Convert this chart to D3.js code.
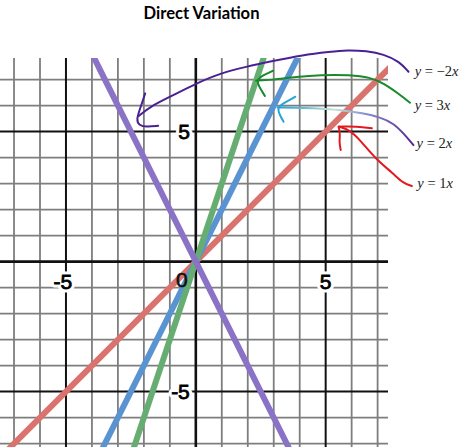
<!DOCTYPE html>
<html>
<head>
<meta charset="utf-8">
<script src="https://cdn.jsdelivr.net/npm/d3@7"></script>
<style>
html,body{margin:0;padding:0;background:#fff;}
svg{display:block;}
</style>
</head>
<body>
<svg id="chart" width="474" height="447"></svg>
<script>
// ---- data ----
const title = "Direct Variation";
const slopes = [1, 2, 3, -2];
const seriesNames = ["y = 1x", "y = 2x", "y = 3x", "y = -2x"];
const seriesColors = ["#d9736d", "#5a93d1", "#66ad72", "#8a72c6"];
const xDomain = [-7.54, 7.4];
const yDomain = [-7.13, 7.83];
const gridTicks = d3.range(-7, 8);
const majorTicks = [-5, 0, 5];
const xTickLabels = [-5, 5];
const yTickLabels = [5, -5];

// hand-drawn annotations (data units)
const annPurple = [[8.19,7.30],[7.85,7.69],[7.23,7.98],[6.58,8.10],[5.82,8.14],[5.16,8.07],[4.15,7.95],[2.85,7.69],[1.96,7.50],[0.93,7.24],[0.03,6.86],[-0.99,6.34],[-1.76,5.96],[-2.20,5.60]];
const annPurpleHead = [[-1.95,6.47],[-2.11,5.98],[-2.30,5.45],[-2.18,5.24],[-1.92,5.18],[-1.45,5.22]];
const annGreen = [[8.25,6.11],[7.87,6.41],[7.23,6.86],[6.71,7.09],[5.94,7.18],[4.79,7.18],[3.89,7.11],[2.87,6.98],[2.32,6.96]];
const annGreenHead = [[2.97,7.34],[2.55,7.15],[2.32,6.95],[2.50,6.62],[2.66,6.37]];
const annBlue = [[8.38,4.48],[8.0,4.93],[7.61,5.32],[7.10,5.55],[6.46,5.70],[5.43,5.86],[4.15,5.92],[3.15,5.93]];
const annBlueHead = [[3.83,6.34],[3.40,6.10],[3.12,5.93],[3.25,5.60],[3.38,5.38]];
const annRed = [[8.32,2.91],[7.97,3.02],[7.58,3.41],[6.96,3.91],[6.32,4.68],[5.93,5.06],[5.52,5.19]];
const annRedHead1 = [[6.78,5.13],[6.20,5.20],[5.50,5.19]];
const annRedHead2 = [[5.50,5.19],[5.56,4.90],[5.52,4.60],[5.58,4.29]];
const annLabels = [
  {parts:[["y",1],[" = −2",0],["x",1]], x:8.43, y:7.15},
  {parts:[["y",1],[" = 3",0],["x",1]], x:8.43, y:5.83},
  {parts:[["y",1],[" = 2",0],["x",1]], x:8.50, y:4.37},
  {parts:[["y",1],[" = 1",0],["x",1]], x:8.53, y:2.83}
];

// ---- drawing ----
const svg = d3.select("#chart");
const x = d3.scaleLinear().domain(xDomain).range([0, 388]);
const y = d3.scaleLinear().domain(yDomain).range([447, 58]);

svg.append("rect").attr("width",474).attr("height",447).attr("fill","#fff");

svg.append("defs").append("clipPath").attr("id","plot")
  .append("rect").attr("x", x(xDomain[0])).attr("y", y(yDomain[1]))
  .attr("width", x(xDomain[1]) - x(xDomain[0])).attr("height", y(yDomain[0]) - y(yDomain[1]));

const grid = svg.append("g");
// minor grid
grid.selectAll("line.vx").data(gridTicks.filter(d => !majorTicks.includes(d))).join("line")
  .attr("x1", d => x(d)).attr("x2", d => x(d))
  .attr("y1", y(yDomain[1])).attr("y2", y(yDomain[0]))
  .attr("stroke", "#7e7e7e").attr("stroke-width", 1.8);
grid.selectAll("line.hy").data(gridTicks.filter(d => !majorTicks.includes(d))).join("line")
  .attr("y1", d => y(d)).attr("y2", d => y(d))
  .attr("x1", x(xDomain[0])).attr("x2", x(xDomain[1]))
  .attr("stroke", "#7e7e7e").attr("stroke-width", 1.8);
// major grid
const maj = svg.append("g");
maj.selectAll("line.mx").data(majorTicks).join("line")
  .attr("x1", d => x(d)).attr("x2", d => x(d))
  .attr("y1", y(yDomain[1])).attr("y2", y(yDomain[0]))
  .attr("stroke", "#111").attr("stroke-width", d => d === 0 ? 2.6 : 2);
maj.selectAll("line.my").data(majorTicks).join("line")
  .attr("y1", d => y(d)).attr("y2", d => y(d))
  .attr("x1", x(xDomain[0])).attr("x2", x(xDomain[1]))
  .attr("stroke", "#111").attr("stroke-width", d => d === 0 ? 2.6 : 2);

// tick labels: white halo, then solid text
const fmt = d => d < 0 ? "-" + Math.abs(d) : String(d);
function tickLabels(withHalo) {
  const g = svg.append("g").attr("font-family", "'Liberation Sans', Arial, sans-serif")
    .attr("font-size", 21).attr("fill", withHalo ? "#fff" : "#000");
  if (withHalo) g.attr("stroke", "#fff").attr("stroke-width", 7).attr("stroke-linejoin", "round");
  else g.attr("stroke", "#000").attr("stroke-width", 0.8);
  g.selectAll("text.xl").data(xTickLabels).join("text")
    .attr("x", d => x(d) + (d < 0 ? -3 : 0)).attr("y", y(0) + 27).attr("text-anchor", "middle")
    .text(fmt);
  g.selectAll("text.yl").data(yTickLabels).join("text")
    .attr("x", x(0) - 6).attr("y", d => y(d) + 7.5).attr("text-anchor", "end")
    .text(fmt);
}
tickLabels(true);
tickLabels(false);

// lines
const lg = svg.append("g").attr("clip-path", "url(#plot)");
const pts = m => [[xDomain[0] - 1, m * (xDomain[0] - 1)], [xDomain[1] + 1, m * (xDomain[1] + 1)]];
const line = d3.line().x(d => x(d[0])).y(d => y(d[1]));
lg.selectAll("path").data(slopes).join("path")
  .attr("d", m => line(pts(m)))
  .attr("fill", "none")
  .attr("stroke", (m, i) => seriesColors[i])
  .attr("stroke-width", 6);

// origin label drawn over lines
svg.append("text").attr("x", x(0) - 14).attr("y", y(0) + 25)
  .attr("text-anchor", "middle").attr("font-family", "'Liberation Sans', Arial, sans-serif")
  .attr("font-size", 21).attr("fill", "#111").attr("stroke", "#111").attr("stroke-width", 0.6).text("0");

// title
svg.append("text").attr("x", 201.5).attr("y", 19).attr("text-anchor", "middle")
  .attr("font-family", "Lato, 'Open Sans', sans-serif").attr("font-weight", 700)
  .attr("font-size", 16.5).attr("textLength", 116).attr("lengthAdjust", "spacingAndGlyphs")
  .text(title);

// gradient for y=2x annotation
const grad = svg.select("defs").append("linearGradient").attr("id", "g2")
  .attr("gradientUnits", "userSpaceOnUse")
  .attr("x1", x(3.1)).attr("x2", x(8.4)).attr("y1", 0).attr("y2", 0);
[["0%","#1f9fd2"],["25%","#79c4d6"],["42%","#c9e3d4"],["62%","#8d98d4"],["100%","#552592"]]
  .forEach(s => grad.append("stop").attr("offset", s[0]).attr("stop-color", s[1]));

const hand = d3.line().x(d => x(d[0])).y(d => y(d[1])).curve(d3.curveBasis);
const ann = svg.append("g").attr("fill", "none").attr("stroke-width", 2)
  .attr("stroke-linecap", "round").attr("stroke-linejoin", "round");
[[annPurple,"#4a2192"],[annPurpleHead,"#4a2192"],
 [annGreen,"#178a2c"],[annGreenHead,"#178a2c"],
 [annBlue,"url(#g2)"],[annBlueHead,"#2aa3d6"],
 [annRed,"#e3191e"],[annRedHead1,"#e3191e"],[annRedHead2,"#e3191e"]]
 .forEach(([d, c]) => ann.append("path").attr("d", hand(d)).attr("stroke", c));

// annotation labels
const at = svg.append("g").attr("font-family", "'Liberation Serif', 'DejaVu Serif', serif")
  .attr("font-size", 14.5).attr("fill", "#222");
annLabels.forEach(l => {
  const t = at.append("text").attr("x", x(l.x)).attr("y", y(l.y));
  l.parts.forEach(p => t.append("tspan").attr("font-style", p[1] ? "italic" : "normal").text(p[0]));
});
</script>
</body>
</html>
